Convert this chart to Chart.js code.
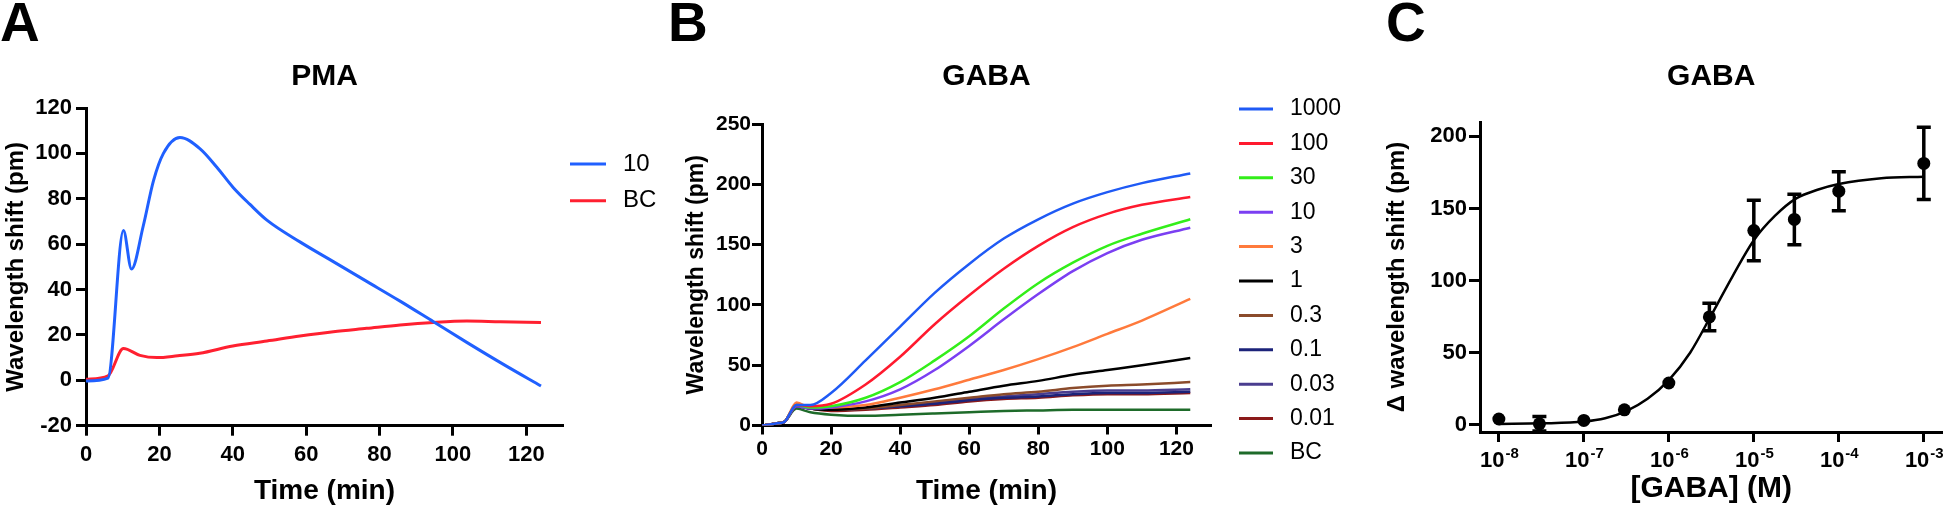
<!DOCTYPE html>
<html>
<head>
<meta charset="utf-8">
<title>PMA / GABA</title>
<script src="https://cdn.jsdelivr.net/npm/chart.js@4.4.1/dist/chart.umd.min.js"></script>
<style>
    body { margin: 0; background: #fff; width: 1949px; height: 510px; overflow: hidden; position: relative;
           font-family: "Liberation Sans", Arial, Helvetica, sans-serif; }
    canvas { position: absolute; top: 0; }
    .tag { position: absolute; top: -5px; font-weight: bold; font-size: 55px; line-height: 55px; color: #000; }
</style>
</head>
<body>
<div class="tag" style="left:0px">A</div>
<div class="tag" style="left:668px">B</div>
<div class="tag" style="left:1386px">C</div>
<canvas id="chartA" style="left:0px" width="680" height="510"></canvas>
<canvas id="chartB" style="left:680px" width="700" height="510"></canvas>
<canvas id="chartC" style="left:1380px" width="569" height="510"></canvas>
<script>
// A - PMA, time (min) / shift (pm)
const pmaTime10 = [0, 6, 10.2, 12.4, 15.6, 18.4, 21.1, 25.6, 31.1, 35.6, 40.1, 44.7, 49.3, 58.3, 67.4, 76.5, 85.6, 94.7, 104, 114, 124]
const pma10 = [-0.3, 1, 66, 49, 68, 88, 100, 107, 102, 94, 85, 77.5, 70.6, 61, 52.3, 43.6, 34.9, 25.8, 16.5, 6.8, -2.5]
const pmaTimeBC = [0, 6, 10.2, 14.7, 19.3, 25, 31, 40, 49.3, 58.3, 67.4, 76.5, 85.6, 94.7, 103.8, 112.9, 124]
const pmaBC = [0.5, 2, 14, 11, 10, 10.8, 11.9, 15.1, 17.3, 19.5, 21.4, 22.9, 24.4, 25.5, 26.1, 25.8, 25.5]

// B - GABA time course, one row per concentration
const gabaTime = [0, 5, 6.5, 10, 14, 20, 30, 40, 50, 60, 70, 80, 90, 100, 110, 124]
const gaba1000 = [0, 2, 3, 17, 17, 27, 54, 82, 110, 134, 155, 171, 184, 193.5, 201, 209]
const gaba100 = [0, 2, 3, 17, 16, 18, 34, 57, 84, 108, 130, 149, 164.5, 175.5, 183, 189.5]
const gaba30 = [0, 2, 3, 17, 15, 16, 23, 36, 54, 74, 97, 118, 135, 149, 159, 171]
const gaba10 = [0, 2, 3, 16, 14, 15, 20, 30, 46, 66, 88, 109, 128, 143, 154, 164]
const gaba3 = [0, 2, 3, 19, 15, 15, 17, 23, 30, 38, 46, 55, 65, 76, 87, 105]
const gaba1 = [0, 2, 3, 17, 14, 13, 15, 19, 23, 28, 33, 37, 42, 46, 50, 56]
const gaba03 = [0, 2, 3, 17, 14, 13, 14, 17, 20, 23, 26, 28, 31, 33, 34, 36]
const gaba01 = [0, 2, 3, 16, 14, 13, 14, 16, 18, 21, 23, 24, 26, 27, 27, 28]
const gaba003 = [0, 2, 3, 16, 14, 13, 14, 16, 19, 22, 24, 26, 28, 29, 29, 30]
const gaba001 = [0, 2, 3, 16, 14, 12, 13, 15, 17, 20, 22, 23, 25, 26, 26, 27]
const gabaBC = [0, 2, 3, 14, 11, 9, 8, 9, 10, 11, 12, 12.5, 13, 13, 13, 13]
const gabaLabels = ['1000', '100', '30', '10', '3', '1', '0.3', '0.1', '0.03', '0.01', 'BC']
const gabaSeries = [gaba1000, gaba100, gaba30, gaba10, gaba3, gaba1, gaba03, gaba01, gaba003, gaba001, gabaBC]

// C - dose response, [GABA] (M) / delta shift (pm)
const doseConc = [1e-8, 3e-8, 1e-7, 3e-7, 1e-6, 3e-6, 1e-5, 3e-5, 1e-4, 1e-3]
const doseMean = [4, 0.7, 3, 10.4, 29, 74.8, 134.7, 142.4, 162, 181.3]
const doseErr = [0, 5, 0, 0, 0, 9.5, 21, 17.5, 13.5, 25]
const fitConc = [1e-8, 3.16e-8, 1e-7, 1.78e-7, 3.16e-7, 5.62e-7, 1e-6, 1.78e-6, 3.16e-6, 5.62e-6, 1e-5, 1.78e-5, 3.16e-5, 5.62e-5, 1e-4, 3.16e-4, 1e-3]
const fitValue = [0.6, 1.0, 2.2, 4.5, 9.5, 18, 31, 50, 76, 103, 128, 145, 157, 163, 167, 171, 172]
const doseTicks = [1e-8, 1e-7, 1e-6, 1e-5, 1e-4, 1e-3]
const doseTickExp = ['-8', '-7', '-6', '-5', '-4', '-3']

// styles
const gabaColors = ['#1f5af5', '#ff1a2e', '#33ee1a', '#7b3ff2', '#ff7a3c', '#000000',
                    '#8b4b2b', '#1c237a', '#4a3d8f', '#8b1a1a', '#1e6b2a']
const fontFamily = '"Liberation Sans", Arial, Helvetica, sans-serif'

Chart.defaults.font.family = fontFamily
Chart.defaults.color = '#000'
Chart.defaults.animation = false

function points(xs, ys) {
    return xs.map((x, i) => ({x: x, y: ys[i]}))
}

// legend drawn as short line + label, right of the plot
const sideLegend = {
    id: 'sideLegend',
    afterDraw(chart, args, opts) {
        const ctx = chart.ctx
        const area = chart.chartArea
        ctx.save()
        ctx.font = opts.fontSize + 'px ' + fontFamily
        ctx.textBaseline = 'middle'
        ctx.textAlign = 'left'
        chart.data.datasets.forEach((ds, i) => {
            const y = area.top + opts.top + i * opts.step
            const x = area.right + opts.left
            ctx.strokeStyle = ds.borderColor
            ctx.lineWidth = opts.lineWidth
            ctx.beginPath()
            ctx.moveTo(x, y)
            ctx.lineTo(x + opts.length, y)
            ctx.stroke()
            ctx.fillStyle = '#000'
            ctx.fillText(ds.label, x + opts.length + opts.gap, y)
        })
        ctx.restore()
    }
}

// vertical error bars with caps, for datasets that carry "errors"
const errorBars = {
    id: 'errorBars',
    afterDatasetsDraw(chart, args, opts) {
        const ctx = chart.ctx
        const xs = chart.scales.x
        const ys = chart.scales.y
        ctx.save()
        ctx.strokeStyle = '#000'
        ctx.lineWidth = opts.width
        chart.data.datasets.forEach(ds => {
            if (!ds.errors) return
            ds.data.forEach((p, i) => {
                const e = ds.errors[i]
                if (!e) return
                const px = xs.getPixelForValue(p.x)
                const top = ys.getPixelForValue(p.y + e)
                const bot = ys.getPixelForValue(p.y - e)
                ctx.beginPath()
                ctx.moveTo(px, top); ctx.lineTo(px, bot)
                ctx.moveTo(px - opts.cap, top); ctx.lineTo(px + opts.cap, top)
                ctx.moveTo(px - opts.cap, bot); ctx.lineTo(px + opts.cap, bot)
                ctx.stroke()
            })
        })
        ctx.restore()
    }
}

// "10" with a raised exponent under each decade tick of the log axis
const powerLabels = {
    id: 'powerLabels',
    afterDraw(chart, args, opts) {
        const ctx = chart.ctx
        const scale = chart.scales.x
        const baseFont = 'bold ' + opts.baseSize + 'px ' + fontFamily
        const expFont = 'bold ' + opts.expSize + 'px ' + fontFamily
        ctx.save()
        ctx.fillStyle = '#000'
        ctx.textBaseline = 'alphabetic'
        ctx.textAlign = 'left'
        scale.ticks.forEach((t, i) => {
            const px = scale.getPixelForValue(t.value)
            ctx.font = baseFont
            const wb = ctx.measureText('10').width
            ctx.font = expFont
            const we = ctx.measureText(doseTickExp[i]).width
            const x0 = px - (wb + we) / 2
            const y0 = scale.top + opts.baseline
            ctx.font = baseFont
            ctx.fillText('10', x0, y0)
            ctx.font = expFont
            ctx.fillText(doseTickExp[i], x0 + wb + 1, y0 - opts.raise)
        })
        ctx.restore()
    }
}

function axisStyle(o) {
    return {
        border: {display: true, color: '#000', width: 3},
        grid: {drawOnChartArea: false, drawTicks: true, tickLength: o.tickLength, tickWidth: 3, tickColor: '#000'},
        ticks: {font: {size: o.tickSize, weight: 'bold'}, color: '#000', padding: o.pad,
                maxRotation: 0, autoSkip: false, includeBounds: false, stepSize: o.step},
        title: {display: true, text: o.title, color: '#000',
                font: {size: o.titleSize, weight: 'bold'}, padding: o.titlePad}
    }
}

function titleStyle(text, bottom) {
    return {display: true, text: text, fullSize: false, color: '#000',
            font: {size: 30, weight: 'bold'}, padding: {top: 59, bottom: bottom}}
}

// ---- A ----
new Chart(document.getElementById('chartA'), {
    type: 'line',
    data: {
        datasets: [
            {label: '10', data: points(pmaTime10, pma10), borderColor: '#2060ff', borderWidth: 3,
             pointRadius: 0, cubicInterpolationMode: 'monotone'},
            {label: 'BC', data: points(pmaTimeBC, pmaBC), borderColor: '#ff2030', borderWidth: 3,
             pointRadius: 0, cubicInterpolationMode: 'monotone'}
        ]
    },
    options: {
        responsive: false,
        layout: {padding: {left: 0, right: 117, top: 0, bottom: 0}},
        plugins: {
            legend: {display: false},
            tooltip: {enabled: false},
            title: titleStyle('PMA', 13),
            sideLegend: {left: 7, top: 56, step: 36.7, length: 36, gap: 17, lineWidth: 3, fontSize: 24}
        },
        scales: {
            x: Object.assign(axisStyle({tickLength: 10, tickSize: 22, pad: 6, step: 20,
                             title: 'Time (min)', titleSize: 28, titlePad: {top: 0, bottom: 2}}),
                             {type: 'linear', min: 0, max: 130, afterFit: s => { s.height = 84.3 }}),
            y: Object.assign(axisStyle({tickLength: 10, tickSize: 22, pad: 4, step: 20,
                             title: 'Wavelength shift (pm)', titleSize: 24, titlePad: {top: 2, bottom: 0}}),
                             {min: -20, max: 120, afterFit: s => { s.width = 86 }})
        }
    },
    plugins: [sideLegend]
})

// ---- B ----
new Chart(document.getElementById('chartB'), {
    type: 'line',
    data: {
        datasets: gabaSeries.map((vals, i) => ({
            label: gabaLabels[i], data: points(gabaTime, vals), borderColor: gabaColors[i],
            borderWidth: 2.5, pointRadius: 0, cubicInterpolationMode: 'monotone'
        }))
    },
    options: {
        responsive: false,
        layout: {padding: {left: 0, right: 169, top: 0, bottom: 0}},
        plugins: {
            legend: {display: false},
            tooltip: {enabled: false},
            title: titleStyle('GABA', 29),
            sideLegend: {left: 28, top: -15, step: 34.4, length: 34, gap: 17, lineWidth: 3, fontSize: 23}
        },
        scales: {
            x: Object.assign(axisStyle({tickLength: 9, tickSize: 21, pad: 2, step: 20,
                             title: 'Time (min)', titleSize: 28, titlePad: {top: 0, bottom: 2}}),
                             {type: 'linear', min: 0, max: 130, afterFit: s => { s.height = 84.5 }}),
            y: Object.assign(axisStyle({tickLength: 10, tickSize: 21, pad: 1, step: 50,
                             title: 'Wavelength shift (pm)', titleSize: 23, titlePad: {top: 3, bottom: 0}}),
                             {min: 0, max: 250, afterFit: s => { s.width = 82 }})
        }
    },
    plugins: [sideLegend]
})

// ---- C ----
const xC = axisStyle({tickLength: 10, tickSize: 22, pad: 5,
                      title: '[GABA] (M)', titleSize: 30, titlePad: {top: 0, bottom: 3}})
xC.ticks.display = false
new Chart(document.getElementById('chartC'), {
    type: 'scatter',
    data: {
        datasets: [
            {label: 'mean', data: points(doseConc, doseMean), errors: doseErr,
             backgroundColor: '#000', borderColor: '#000', pointRadius: 6.5, pointBorderWidth: 0},
            {label: 'fit', data: points(fitConc, fitValue), showLine: true, borderColor: '#000',
             borderWidth: 2.5, pointRadius: 0, cubicInterpolationMode: 'monotone'}
        ]
    },
    options: {
        responsive: false,
        layout: {padding: {left: 0, right: 2, top: 0, bottom: 0}},
        plugins: {
            legend: {display: false},
            tooltip: {enabled: false},
            title: titleStyle('GABA', 27),
            errorBars: {width: 3.5, cap: 7},
            powerLabels: {baseSize: 22, expSize: 15, baseline: 35, raise: 9}
        },
        scales: {
            x: Object.assign(xC, {type: 'logarithmic', min: 6.0e-9, max: 1.66e-3,
                              afterBuildTicks: s => { s.ticks = doseTicks.map(v => ({value: v, major: true})) },
                              afterFit: s => { s.height = 78 }}),
            y: Object.assign(axisStyle({tickLength: 11, tickSize: 22, pad: 2, step: 50,
                             title: 'Δ wavelength shift (pm)', titleSize: 24, titlePad: {top: 3, bottom: 0}}),
                             {min: -5, max: 210, afterFit: s => { s.width = 100 }})
        }
    },
    plugins: [errorBars, powerLabels]
})
</script>
</body>
</html>
